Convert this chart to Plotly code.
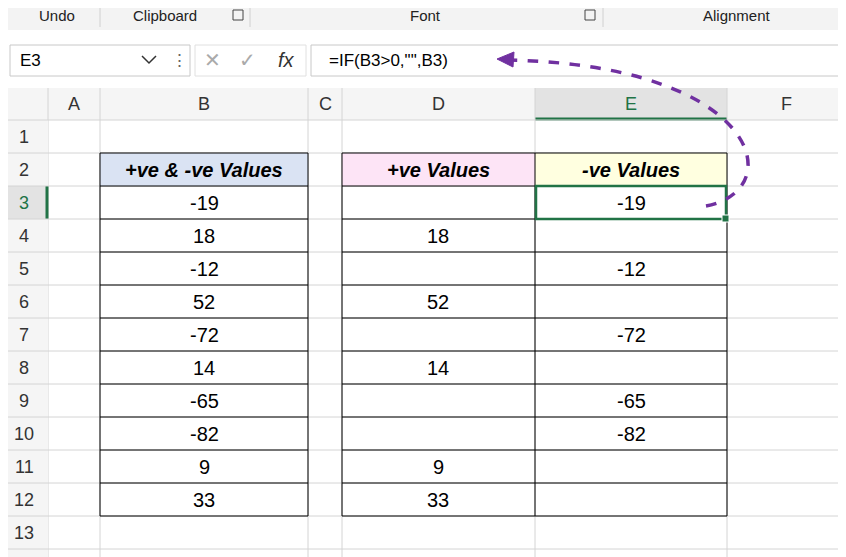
import plotly.graph_objects as go

values = [-19, 18, -12, 52, -72, 14, -65, -82, 9, 33]
row_labels = [str(i) for i in range(1, 14)]
col_labels = ["A", "B", "C", "D", "E", "F"]
col_edges = [48, 100, 308, 342, 535, 727, 846]
ribbon_labels = ["Undo", "Clipboard", "Font", "Alignment"]
ribbon_x = [57, 165, 425, 737]
headers = ["+ve & -ve Values", "+ve Values", "-ve Values"]
formula = '=IF(B3>0,"",B3)'

W, H = 846, 557
OFF = 8
ROW0, RH = 120, 33
FONT = "Liberation Sans"
shapes, ann = [], []

def rect(x0, y0, x1, y1, fill=None, line="rgba(0,0,0,0)", w=1, dash=None):
    shapes.append(dict(type="rect", x0=x0, y0=y0, x1=x1, y1=y1, fillcolor=fill or "rgba(0,0,0,0)",
                       line=dict(color=line, width=w, dash=dash), layer="above"))

def line(x0, y0, x1, y1, c, w=1):
    shapes.append(dict(type="line", x0=x0, y0=y0, x1=x1, y1=y1, line=dict(color=c, width=w), layer="above"))

def text(x, y, t, size=20, color="#000", bold=False, italic=False, anchor="center"):
    if bold: t = "<b>" + t + "</b>"
    if italic: t = "<i>" + t + "</i>"
    ann.append(dict(x=x, y=y, text=t, showarrow=False, xanchor=anchor, yanchor="middle",
                    font=dict(family=FONT, size=size, color=color)))

# ribbon
rect(-20, -20, W + 20, 30, fill="#f3f3f3")
for t, x in zip(ribbon_labels, ribbon_x):
    text(x, 15, t, size=15, color="#222")
for x in [100, 250, 603]:
    line(x, 5, x, 27, "#d0d0d0")
for x in [238, 590]:
    rect(x - 5, 10, x + 5, 20, line="#444", w=1)
rect(-20, 30, W + 20, 88, fill="#ffffff")
# formula bar
rect(10, 45, 190, 76, fill="#fff", line="#c8c8c8")
text(18, 60, "E3", size=17, anchor="left")
shapes.append(dict(type="path", path="M 142 56 L 149 63 L 156 56", line=dict(color="#333", width=1.5), layer="above"))
text(179, 60, "⋮", size=17, color="#666")
rect(195, 45, 306, 76, fill="#fff", line="#e0e0e0")
text(212, 60, "✕", size=20, color="#aaa")
text(247, 60, "✓", size=20, color="#aaa")
text(286, 60, "<i>fx</i>", size=20, color="#333")
rect(311, 45, W + 20, 76, fill="#fff", line="#c8c8c8")
text(327, 60, formula, size=17, anchor="left")

# column headers
rect(-20, 88, W + 20, ROW0, fill="#f5f5f5")
rect(535, 88, 727, ROW0, fill="#e3e3e3")
line(535, ROW0 - 1, 727, ROW0 - 1, "#217346", 3)
for i, c in enumerate(col_labels):
    x = (col_edges[i] + col_edges[i + 1]) / 2
    text(x, 104, c, size=18, color="#217346" if c == "E" else "#333")
for x in col_edges[:-1]:
    line(x, 88, x, H + 20, "#d4d4d4")
# row headers
rect(-20, ROW0, 48, H + 20, fill="#f5f5f5")
rect(-20, ROW0 + 2 * RH, 48, ROW0 + 3 * RH, fill="#e3e3e3")
line(47, ROW0 + 2 * RH, 47, ROW0 + 3 * RH, "#217346", 3)
for i, r in enumerate(row_labels):
    y = ROW0 + i * RH
    line(-20, y, W + 20, y, "#d4d4d4")
    text(24, y + RH / 2, r, size=18, color="#217346" if r == "3" else "#333")
line(-20, ROW0 + 13 * RH, W + 20, ROW0 + 13 * RH, "#d4d4d4")

# tables
top = ROW0 + RH
rect(100, top, 308, top + RH, fill="#dae3f3")
rect(342, top, 535, top + RH, fill="#fde4f6")
rect(535, top, 727, top + RH, fill="#ffffe0")
text(204, top + RH / 2, headers[0], bold=True, italic=True)
text(438, top + RH / 2, headers[1], bold=True, italic=True)
text(631, top + RH / 2, headers[2], bold=True, italic=True)
for k in range(12):
    y = top + k * RH
    line(100, y, 308, y, "#000")
    line(342, y, 727, y, "#000")
for x in [100, 308]:
    line(x, top, x, top + 11 * RH, "#000")
for x in [342, 535, 727]:
    line(x, top, x, top + 11 * RH, "#000")
for i, v in enumerate(values):
    yc = top + (i + 1) * RH + RH / 2
    text(204, yc, str(v))
    if v > 0:
        text(438, yc, str(v))
    else:
        text(631, yc, str(v))

# selection
rect(536, top + RH, 726, top + 2 * RH, line="#217346", w=2.5)
rect(722, top + 2 * RH - 4, 729, top + 2 * RH + 3, fill="#217346", line="#fff", w=1)

# arrow
shapes.append(dict(type="path", path="M 706 206 C 790 190 760 65 508 60",
                   line=dict(color="#7030a0", width=3.5, dash="dash"), layer="above"))
shapes.append(dict(type="path", path="M 497 59 L 514 52 L 513 67 Z", fillcolor="#7030a0",
                   line=dict(color="#7030a0", width=1), layer="above"))

fig = go.Figure()
fig.update_layout(width=W, height=H, margin=dict(l=0, r=0, t=0, b=0),
                  paper_bgcolor="#fff", plot_bgcolor="#fff", shapes=shapes, annotations=ann,
                  xaxis=dict(range=[OFF, W + OFF], visible=False, fixedrange=True),
                  yaxis=dict(range=[H + OFF, OFF], visible=False, fixedrange=True), showlegend=False)
fig.write_html("out.html", config={"displayModeBar": False})
